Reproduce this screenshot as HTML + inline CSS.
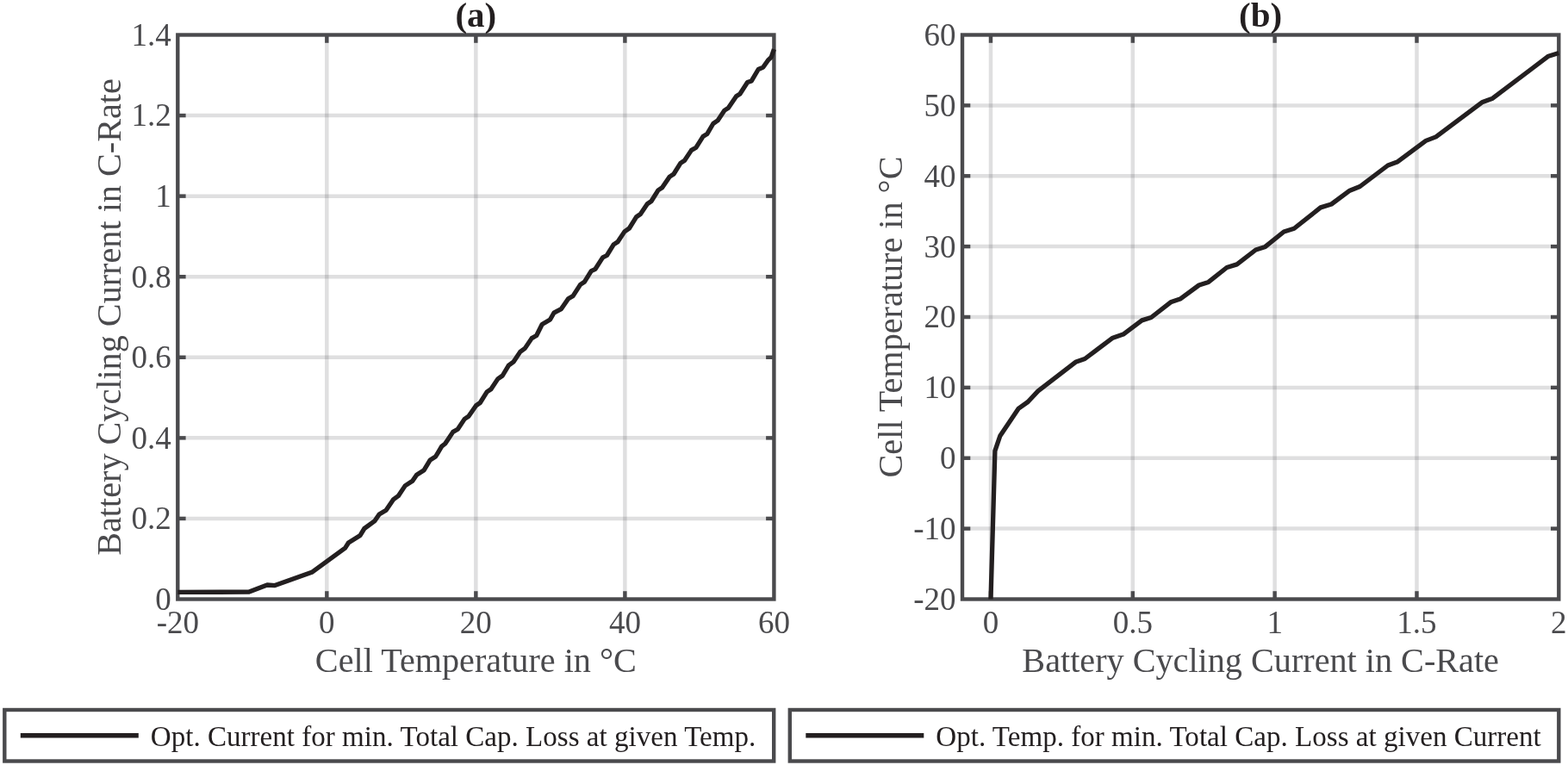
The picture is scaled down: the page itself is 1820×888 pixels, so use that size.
<!DOCTYPE html>
<html><head><meta charset="utf-8"><title>Optimal current and temperature</title>
<style>
html,body{margin:0;padding:0;background:#fff;}
body{width:1820px;height:888px;overflow:hidden;}
svg{display:block;}
text{font-family:'Liberation Serif', 'Times New Roman', serif;}
.tk{font-size:37.0px;fill:#4a4a4d;}
.lb{font-size:40.2px;fill:#4a4a4d;}
.ti{font-size:41px;font-weight:bold;fill:#231f20;}
.lg{font-size:33.1px;fill:#231f20;}
</style></head>
<body>
<svg width="1820" height="888" viewBox="0 0 1820 888">
<rect width="1820" height="888" fill="#fff"/>
<line x1="379.32" y1="40.5" x2="379.32" y2="695.5" stroke="#26262e" stroke-opacity="0.15" stroke-width="4.5"/>
<line x1="552.35" y1="40.5" x2="552.35" y2="695.5" stroke="#26262e" stroke-opacity="0.15" stroke-width="4.5"/>
<line x1="725.38" y1="40.5" x2="725.38" y2="695.5" stroke="#26262e" stroke-opacity="0.15" stroke-width="4.5"/>
<line x1="206.3" y1="601.93" x2="898.4" y2="601.93" stroke="#26262e" stroke-opacity="0.15" stroke-width="4.5"/>
<line x1="206.3" y1="508.36" x2="898.4" y2="508.36" stroke="#26262e" stroke-opacity="0.15" stroke-width="4.5"/>
<line x1="206.3" y1="414.79" x2="898.4" y2="414.79" stroke="#26262e" stroke-opacity="0.15" stroke-width="4.5"/>
<line x1="206.3" y1="321.21" x2="898.4" y2="321.21" stroke="#26262e" stroke-opacity="0.15" stroke-width="4.5"/>
<line x1="206.3" y1="227.64" x2="898.4" y2="227.64" stroke="#26262e" stroke-opacity="0.15" stroke-width="4.5"/>
<line x1="206.3" y1="134.07" x2="898.4" y2="134.07" stroke="#26262e" stroke-opacity="0.15" stroke-width="4.5"/>
<line x1="379.32" y1="695.5" x2="379.32" y2="686.2" stroke="#4a4a4d" stroke-width="4.4"/>
<line x1="379.32" y1="40.5" x2="379.32" y2="49.8" stroke="#4a4a4d" stroke-width="4.4"/>
<line x1="552.35" y1="695.5" x2="552.35" y2="686.2" stroke="#4a4a4d" stroke-width="4.4"/>
<line x1="552.35" y1="40.5" x2="552.35" y2="49.8" stroke="#4a4a4d" stroke-width="4.4"/>
<line x1="725.38" y1="695.5" x2="725.38" y2="686.2" stroke="#4a4a4d" stroke-width="4.4"/>
<line x1="725.38" y1="40.5" x2="725.38" y2="49.8" stroke="#4a4a4d" stroke-width="4.4"/>
<line x1="206.3" y1="601.93" x2="215.6" y2="601.93" stroke="#4a4a4d" stroke-width="4.4"/>
<line x1="898.4" y1="601.93" x2="889.1" y2="601.93" stroke="#4a4a4d" stroke-width="4.4"/>
<line x1="206.3" y1="508.36" x2="215.6" y2="508.36" stroke="#4a4a4d" stroke-width="4.4"/>
<line x1="898.4" y1="508.36" x2="889.1" y2="508.36" stroke="#4a4a4d" stroke-width="4.4"/>
<line x1="206.3" y1="414.79" x2="215.6" y2="414.79" stroke="#4a4a4d" stroke-width="4.4"/>
<line x1="898.4" y1="414.79" x2="889.1" y2="414.79" stroke="#4a4a4d" stroke-width="4.4"/>
<line x1="206.3" y1="321.21" x2="215.6" y2="321.21" stroke="#4a4a4d" stroke-width="4.4"/>
<line x1="898.4" y1="321.21" x2="889.1" y2="321.21" stroke="#4a4a4d" stroke-width="4.4"/>
<line x1="206.3" y1="227.64" x2="215.6" y2="227.64" stroke="#4a4a4d" stroke-width="4.4"/>
<line x1="898.4" y1="227.64" x2="889.1" y2="227.64" stroke="#4a4a4d" stroke-width="4.4"/>
<line x1="206.3" y1="134.07" x2="215.6" y2="134.07" stroke="#4a4a4d" stroke-width="4.4"/>
<line x1="898.4" y1="134.07" x2="889.1" y2="134.07" stroke="#4a4a4d" stroke-width="4.4"/>
<rect x="206.3" y="40.5" width="692.1" height="655" fill="none" stroke="#4a4a4d" stroke-width="4.4" stroke-linejoin="miter"/>
<polyline points="206.3,687.3 288.5,687.2 310.1,679 319.1,679.6 361.9,664.3 400.6,636.2 404.5,630 418.1,621.4 422.9,613.5 434.7,604.9 440.2,597 448.1,592.2 456.8,579.6 462.3,575.7 470.2,563.9 478.8,558.3 483.6,551.2 492.2,545.7 499.3,533.9 505.6,530 512.7,518.1 516.7,515 525.8,501.4 531.3,498.3 539.2,486.4 543.9,483.3 552.6,470.7 557.3,467.5 565.2,454.9 569.9,451.7 577.8,439.9 583.3,436 590.4,424.2 595.9,420.2 603.8,408.4 609.3,404.4 617.2,392.6 622.7,389.5 629.2,376.5 638.5,371 642.9,363.2 651.5,358.6 659.6,346.8 665.2,343.4 673.6,330.4 678.3,327.3 686.2,314.6 691,312.3 699.6,298.9 704.4,296.5 712.2,283.9 717,280.7 724.9,268.9 730.4,265 738.7,251.7 743.4,248.5 751.3,236.7 756,233.5 763.9,220.9 768.6,217.8 777.3,205.1 782,202 789.9,189.4 794.6,186.2 802.5,174.4 808,171.2 815.9,158.6 820.7,155.6 827.8,143.5 833,139.9 841,128.1 845.4,125.2 854.6,111.8 858.9,109 867.6,95.5 872.3,93.9 880.2,80.5 885.8,78.1 891.3,70.2 895.2,66.3 898.4,57.2" fill="none" stroke="#231f20" stroke-width="5.3" stroke-linejoin="round" stroke-linecap="butt"/>
<text x="206.3" y="735.2" text-anchor="middle" class="tk">-20</text>
<text x="379.32" y="735.2" text-anchor="middle" class="tk">0</text>
<text x="552.35" y="735.2" text-anchor="middle" class="tk">20</text>
<text x="725.38" y="735.2" text-anchor="middle" class="tk">40</text>
<text x="898.4" y="735.2" text-anchor="middle" class="tk">60</text>
<text x="198.8" y="707.9" text-anchor="end" class="tk">0</text>
<text x="198.8" y="614.33" text-anchor="end" class="tk">0.2</text>
<text x="198.8" y="520.76" text-anchor="end" class="tk">0.4</text>
<text x="198.8" y="427.19" text-anchor="end" class="tk">0.6</text>
<text x="198.8" y="333.61" text-anchor="end" class="tk">0.8</text>
<text x="198.8" y="240.04" text-anchor="end" class="tk">1</text>
<text x="198.8" y="146.47" text-anchor="end" class="tk">1.2</text>
<text x="198.8" y="52.9" text-anchor="end" class="tk">1.4</text>
<text x="552.35" y="30.5" text-anchor="middle" class="ti">(a)</text>
<text x="552.35" y="780" text-anchor="middle" class="lb">Cell Temperature in °C</text>
<text transform="translate(139.9,368) rotate(-90)" x="0" y="0" text-anchor="middle" class="lb">Battery Cycling Current in C-Rate</text>
<line x1="1149.97" y1="40.5" x2="1149.97" y2="695.5" stroke="#26262e" stroke-opacity="0.15" stroke-width="4.5"/>
<line x1="1314.8" y1="40.5" x2="1314.8" y2="695.5" stroke="#26262e" stroke-opacity="0.15" stroke-width="4.5"/>
<line x1="1479.63" y1="40.5" x2="1479.63" y2="695.5" stroke="#26262e" stroke-opacity="0.15" stroke-width="4.5"/>
<line x1="1644.47" y1="40.5" x2="1644.47" y2="695.5" stroke="#26262e" stroke-opacity="0.15" stroke-width="4.5"/>
<line x1="1117" y1="613.62" x2="1809.3" y2="613.62" stroke="#26262e" stroke-opacity="0.15" stroke-width="4.5"/>
<line x1="1117" y1="531.75" x2="1809.3" y2="531.75" stroke="#26262e" stroke-opacity="0.15" stroke-width="4.5"/>
<line x1="1117" y1="449.88" x2="1809.3" y2="449.88" stroke="#26262e" stroke-opacity="0.15" stroke-width="4.5"/>
<line x1="1117" y1="368" x2="1809.3" y2="368" stroke="#26262e" stroke-opacity="0.15" stroke-width="4.5"/>
<line x1="1117" y1="286.12" x2="1809.3" y2="286.12" stroke="#26262e" stroke-opacity="0.15" stroke-width="4.5"/>
<line x1="1117" y1="204.25" x2="1809.3" y2="204.25" stroke="#26262e" stroke-opacity="0.15" stroke-width="4.5"/>
<line x1="1117" y1="122.38" x2="1809.3" y2="122.38" stroke="#26262e" stroke-opacity="0.15" stroke-width="4.5"/>
<line x1="1149.97" y1="695.5" x2="1149.97" y2="686.2" stroke="#4a4a4d" stroke-width="4.4"/>
<line x1="1149.97" y1="40.5" x2="1149.97" y2="49.8" stroke="#4a4a4d" stroke-width="4.4"/>
<line x1="1314.8" y1="695.5" x2="1314.8" y2="686.2" stroke="#4a4a4d" stroke-width="4.4"/>
<line x1="1314.8" y1="40.5" x2="1314.8" y2="49.8" stroke="#4a4a4d" stroke-width="4.4"/>
<line x1="1479.63" y1="695.5" x2="1479.63" y2="686.2" stroke="#4a4a4d" stroke-width="4.4"/>
<line x1="1479.63" y1="40.5" x2="1479.63" y2="49.8" stroke="#4a4a4d" stroke-width="4.4"/>
<line x1="1644.47" y1="695.5" x2="1644.47" y2="686.2" stroke="#4a4a4d" stroke-width="4.4"/>
<line x1="1644.47" y1="40.5" x2="1644.47" y2="49.8" stroke="#4a4a4d" stroke-width="4.4"/>
<line x1="1117" y1="613.62" x2="1126.3" y2="613.62" stroke="#4a4a4d" stroke-width="4.4"/>
<line x1="1809.3" y1="613.62" x2="1800" y2="613.62" stroke="#4a4a4d" stroke-width="4.4"/>
<line x1="1117" y1="531.75" x2="1126.3" y2="531.75" stroke="#4a4a4d" stroke-width="4.4"/>
<line x1="1809.3" y1="531.75" x2="1800" y2="531.75" stroke="#4a4a4d" stroke-width="4.4"/>
<line x1="1117" y1="449.88" x2="1126.3" y2="449.88" stroke="#4a4a4d" stroke-width="4.4"/>
<line x1="1809.3" y1="449.88" x2="1800" y2="449.88" stroke="#4a4a4d" stroke-width="4.4"/>
<line x1="1117" y1="368" x2="1126.3" y2="368" stroke="#4a4a4d" stroke-width="4.4"/>
<line x1="1809.3" y1="368" x2="1800" y2="368" stroke="#4a4a4d" stroke-width="4.4"/>
<line x1="1117" y1="286.12" x2="1126.3" y2="286.12" stroke="#4a4a4d" stroke-width="4.4"/>
<line x1="1809.3" y1="286.12" x2="1800" y2="286.12" stroke="#4a4a4d" stroke-width="4.4"/>
<line x1="1117" y1="204.25" x2="1126.3" y2="204.25" stroke="#4a4a4d" stroke-width="4.4"/>
<line x1="1809.3" y1="204.25" x2="1800" y2="204.25" stroke="#4a4a4d" stroke-width="4.4"/>
<line x1="1117" y1="122.38" x2="1126.3" y2="122.38" stroke="#4a4a4d" stroke-width="4.4"/>
<line x1="1809.3" y1="122.38" x2="1800" y2="122.38" stroke="#4a4a4d" stroke-width="4.4"/>
<rect x="1117" y="40.5" width="692.3" height="655" fill="none" stroke="#4a4a4d" stroke-width="4.4" stroke-linejoin="miter"/>
<polyline points="1150,695.5 1154.9,523.3 1160.8,506 1182,474.4 1193.1,466.5 1204.9,453.9 1248.4,420.3 1259.2,416.5 1291.6,392.2 1303.8,388.1 1325.4,371.9 1336.2,368.5 1358.8,350.8 1369.8,347.1 1391.7,331 1402.7,327.4 1424,310.5 1435.7,306.9 1457.6,290 1468.6,286.4 1490.2,269 1502.1,265.3 1532.8,240.9 1545.4,237 1566.7,221.2 1578.5,216.5 1610.9,192 1621.7,188.1 1655,163.4 1666.7,158.9 1720.8,118.4 1732.5,114.2 1797.3,65.2 1809.3,61.5" fill="none" stroke="#231f20" stroke-width="5.3" stroke-linejoin="round" stroke-linecap="butt"/>
<text x="1149.97" y="735.2" text-anchor="middle" class="tk">0</text>
<text x="1314.8" y="735.2" text-anchor="middle" class="tk">0.5</text>
<text x="1479.63" y="735.2" text-anchor="middle" class="tk">1</text>
<text x="1644.47" y="735.2" text-anchor="middle" class="tk">1.5</text>
<text x="1809.3" y="735.2" text-anchor="middle" class="tk">2</text>
<text x="1109.5" y="707.9" text-anchor="end" class="tk">-20</text>
<text x="1109.5" y="626.02" text-anchor="end" class="tk">-10</text>
<text x="1109.5" y="544.15" text-anchor="end" class="tk">0</text>
<text x="1109.5" y="462.27" text-anchor="end" class="tk">10</text>
<text x="1109.5" y="380.4" text-anchor="end" class="tk">20</text>
<text x="1109.5" y="298.52" text-anchor="end" class="tk">30</text>
<text x="1109.5" y="216.65" text-anchor="end" class="tk">40</text>
<text x="1109.5" y="134.78" text-anchor="end" class="tk">50</text>
<text x="1109.5" y="52.9" text-anchor="end" class="tk">60</text>
<text x="1463.15" y="30.5" text-anchor="middle" class="ti">(b)</text>
<text x="1463.15" y="780" text-anchor="middle" class="lb">Battery Cycling Current in C-Rate</text>
<text transform="translate(1046.7,368) rotate(-90)" x="0" y="0" text-anchor="middle" class="lb">Cell Temperature in °C</text>
<rect x="5.3" y="824" width="892.9" height="59.5" fill="#fff" stroke="#4a4a4d" stroke-width="4.4"/>
<line x1="23.8" y1="853.7" x2="160.8" y2="853.7" stroke="#231f20" stroke-width="5.5"/>
<text x="174.8" y="865.7" class="lg">Opt. Current for min. Total Cap. Loss at given Temp.</text>
<rect x="916.8" y="824" width="892.5" height="59.5" fill="#fff" stroke="#4a4a4d" stroke-width="4.4"/>
<line x1="935.3" y1="853.7" x2="1072.3" y2="853.7" stroke="#231f20" stroke-width="5.5"/>
<text x="1086.3" y="865.7" class="lg">Opt. Temp. for min. Total Cap. Loss at given Current</text>
</svg>
</body></html>
